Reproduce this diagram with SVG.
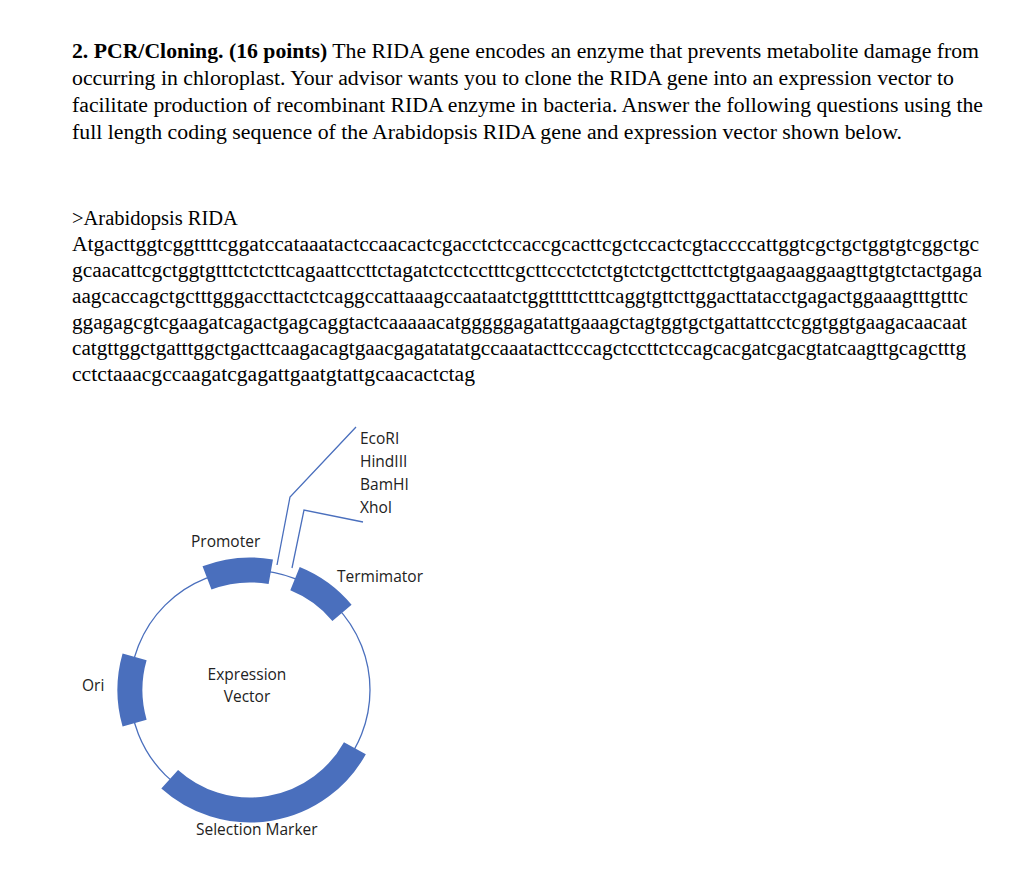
<svg xmlns="http://www.w3.org/2000/svg" width="1024" height="873" viewBox="0 0 1024 873">
<style>
.t{font-family:"Liberation Serif","Times New Roman",serif;font-size:20.5px;fill:#000}
.s{font-family:"Open Sans","Liberation Sans",sans-serif;font-size:15.5px;fill:#222}
.band{fill:none;stroke:#4a6fbd;stroke-width:25}
.ln{fill:none;stroke:#4a6fbd;stroke-width:1.3}
</style>
<rect width="1024" height="873" fill="#fff"/>
<g id="question">
<text class="t" x="72" y="58" textLength="907" lengthAdjust="spacingAndGlyphs"><tspan font-weight="bold">2. PCR/Cloning. (16 points)</tspan> The RIDA gene encodes an enzyme that prevents metabolite damage from</text>
<text class="t" x="72" y="85" textLength="882" lengthAdjust="spacingAndGlyphs">occurring in chloroplast. Your advisor wants you to clone the RIDA gene into an expression vector to</text>
<text class="t" x="72" y="112" textLength="911" lengthAdjust="spacingAndGlyphs">facilitate production of recombinant RIDA enzyme in bacteria. Answer the following questions using the</text>
<text class="t" x="72" y="139" textLength="830" lengthAdjust="spacingAndGlyphs">full length coding sequence of the Arabidopsis RIDA gene and expression vector shown below.</text>
</g>
<g id="sequence">
<text class="t" x="72" y="225">&gt;Arabidopsis RIDA</text>
<text class="t" x="72" y="251" textLength="907" lengthAdjust="spacingAndGlyphs">Atgacttggtcggttttcggatccataaatactccaacactcgacctctccaccgcacttcgctccactcgtaccccattggtcgctgctggtgtcggctgc</text>
<text class="t" x="72" y="277" textLength="910" lengthAdjust="spacingAndGlyphs">gcaacattcgctggtgtttctctcttcagaattccttctagatctcctcctttcgcttccctctctgtctctgcttcttctgtgaagaaggaagttgtgtctactgaga</text>
<text class="t" x="72" y="303" textLength="896" lengthAdjust="spacingAndGlyphs">aagcaccagctgctttgggaccttactctcaggccattaaagccaataatctggtttttctttcaggtgttcttggacttatacctgagactggaaagtttgtttc</text>
<text class="t" x="72" y="329" textLength="895" lengthAdjust="spacingAndGlyphs">ggagagcgtcgaagatcagactgagcaggtactcaaaaacatgggggagatattgaaagctagtggtgctgattattcctcggtggtgaagacaacaat</text>
<text class="t" x="72" y="355" textLength="894" lengthAdjust="spacingAndGlyphs">catgttggctgatttggctgacttcaagacagtgaacgagatatatgccaaatacttcccagctccttctccagcacgatcgacgtatcaagttgcagctttg</text>
<text class="t" x="72" y="381" textLength="403" lengthAdjust="spacingAndGlyphs">cctctaaacgccaagatcgagattgaatgtattgcaacactctag</text>
</g>
<g id="vector">
<circle cx="250" cy="690" r="120" fill="none" stroke="#4a6fbd" stroke-width="1.3"/>
<text class="s" x="247" y="680" text-anchor="middle">Expression</text>
<text class="s" x="247" y="702" text-anchor="middle">Vector</text>
</g>
<g id="promoter">
<path class="band" d="M207.0,577.9 A120,120 0 0 1 270.8,571.8"/>
<text class="s" x="191" y="547">Promoter</text>
</g>
<g id="terminator">
<path class="band" d="M295.0,578.7 A120,120 0 0 1 342.0,612.9"/>
<text class="s" x="337" y="582">Termimator</text>
</g>
<g id="ori">
<path class="band" d="M134.6,723.1 A120,120 0 0 1 134.6,656.9"/>
<text class="s" x="82" y="691">Ori</text>
</g>
<g id="selection">
<path class="band" d="M354.9,748.2 A120,120 0 0 1 169.7,779.2"/>
<text class="s" x="196" y="835">Selection Marker</text>
</g>
<g id="sites">
<text class="s" x="360" y="444">EcoRI</text>
<text class="s" x="360" y="467">HindIII</text>
<text class="s" x="360" y="490">BamHI</text>
<text class="s" x="360" y="513">XhoI</text>
</g>
<g id="connectors">
<polyline class="ln" points="277,565 290,497 356,427"/>
<polyline class="ln" points="292,568 304,510 363,522"/>
</g>
</svg>
